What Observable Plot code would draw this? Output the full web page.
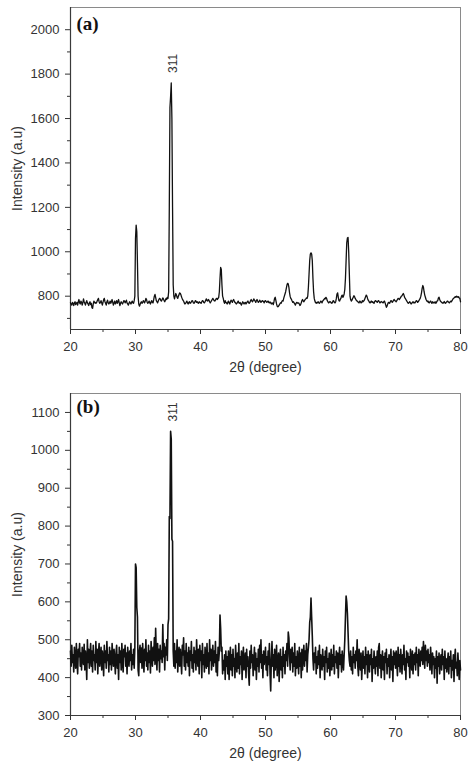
<!DOCTYPE html>
<html>
<head>
<meta charset="utf-8">
<script src="https://cdn.jsdelivr.net/npm/d3@7"></script>
<script src="https://cdn.jsdelivr.net/npm/@observablehq/plot@0.6"></script>
<style>
  body { margin: 0; background: #fff; }
  #chart svg { display: block; }
</style>
</head>
<body>
<div id="chart"></div>
<script>
// Diffraction scans, 2θ from 20° to 80° sampled every 0.1°.
const twoThetaStart = 20;
const twoThetaStep = 0.1;

// Panel (a): intensity, one row per degree (x.0 … x.9), last value at 80.0
const intensityA = [
  770,765,760,772,768,758,770,775,762,768,
  772,760,775,785,770,765,778,772,760,770,
  788,775,768,760,772,780,770,765,758,770,
  775,762,768,748,745,765,778,770,772,768,
  770,778,785,790,775,768,772,780,770,760,
  772,785,790,775,768,760,775,782,770,765,
  770,778,768,775,785,772,760,770,778,765,
  772,780,768,775,785,770,758,768,775,770,
  765,772,780,778,770,775,782,770,765,760,
  768,775,770,765,772,778,770,768,780,800,
  1060,1120,1090,950,800,765,755,762,770,775,
  768,772,780,775,770,778,790,785,772,768,
  772,778,770,765,775,780,772,770,785,800,
  808,795,780,775,770,778,785,790,788,780,
  778,785,792,788,780,775,782,790,785,795,
  790,820,1200,1650,1700,1760,1600,1200,850,800,
  788,800,812,805,795,790,800,808,815,812,
  805,795,788,782,778,770,765,768,772,778,
  770,765,772,775,768,770,775,780,778,770,
  768,772,780,778,772,775,770,768,775,772,
  770,768,775,780,778,772,770,775,782,788,
  780,778,785,782,775,770,775,780,785,790,
  785,780,778,782,788,790,785,790,795,820,
  880,930,920,850,800,790,775,768,780,772,
  770,765,772,778,770,765,775,782,778,772,
  780,785,778,772,770,765,768,772,778,770,
  768,772,765,760,768,775,770,765,770,772,
  765,770,775,778,770,768,772,780,785,778,
  775,780,788,782,778,772,780,785,778,772,
  775,782,778,772,776,780,778,775,770,778,
  780,776,772,775,778,772,770,774,770,765,
  770,768,762,775,790,795,780,765,755,752,
  755,760,765,770,768,775,780,778,790,800,
  810,820,835,850,858,855,840,815,798,790,
  785,778,772,775,770,765,760,768,772,770,
  768,770,765,758,762,770,780,785,778,775,
  780,785,788,792,790,800,840,900,960,990,
  995,990,960,880,820,790,778,770,772,768,
  772,775,770,768,772,778,775,770,778,782,
  785,790,788,795,790,780,775,770,772,776,
  775,770,768,772,780,778,772,770,775,790,
  810,815,795,780,778,785,790,800,805,795,
  800,810,830,880,960,1040,1062,1065,1000,900,
  800,785,778,782,790,795,802,798,790,785,
  780,778,775,772,770,778,775,770,772,780,
  775,778,782,790,798,805,800,790,782,778,
  772,770,775,778,772,775,770,768,776,780,
  778,775,772,778,780,775,770,772,776,774,
  772,770,775,778,770,760,750,755,765,772,
  770,768,775,780,778,772,776,782,785,780,
  778,775,780,785,790,788,785,790,795,800,
  802,808,812,805,795,790,785,780,775,770,
  768,772,775,770,765,768,772,775,770,772,
  770,775,780,778,772,775,780,785,790,800,
  815,835,848,840,820,805,795,785,780,775,
  778,772,770,775,778,772,768,775,770,772,
  770,775,768,772,778,780,792,795,785,778,
  775,772,770,768,772,776,770,768,772,775,
  778,775,772,770,774,778,775,780,785,790,
  792,795,798,795,800,798,795,798,792,790,
  775
];

// Panel (b): intensity, same sampling
const intensityB = [
  470,430,485,440,460,415,480,450,425,490,
  445,410,475,455,490,430,465,420,480,450,
  435,488,420,470,445,395,500,440,475,425,
  460,490,430,470,415,485,445,460,420,495,
  440,475,410,465,490,430,455,480,420,470,
  450,405,485,440,470,425,495,445,460,415,
  480,435,470,420,490,455,430,475,445,410,
  465,485,425,460,395,480,440,470,420,490,
  445,415,475,455,485,430,465,410,480,450,
  430,470,445,490,420,460,435,475,425,480,
  700,690,585,560,420,405,470,485,440,478,
  425,490,450,415,475,445,500,430,465,420,
  485,440,470,412,495,455,430,480,445,505,
  435,530,460,420,490,445,475,415,485,450,
  470,440,540,455,490,420,480,460,500,445,
  540,555,825,820,1050,1030,765,760,470,430,
  490,425,470,440,500,415,460,480,430,475,
  445,410,485,460,505,430,470,420,490,440,
  465,430,480,405,470,445,495,425,460,415,
  480,440,470,420,500,455,430,475,410,485,
  445,470,400,490,435,460,415,480,450,425,
  490,430,465,410,500,445,475,420,460,485,
  430,470,440,495,415,460,405,480,445,470,
  565,530,470,480,410,445,420,460,395,470,
  430,455,410,470,395,445,480,420,460,405,
  475,430,450,400,485,440,415,465,425,490,
  410,455,435,470,395,450,480,420,440,465,
  400,475,430,455,410,380,470,425,485,440,
  460,405,445,480,420,465,395,450,430,475,
  415,485,440,500,425,460,400,470,435,455,
  480,420,455,405,470,435,490,410,365,450,
  495,430,460,400,475,420,450,485,405,440,
  465,390,445,475,420,455,400,480,430,460,
  410,470,445,490,430,520,505,455,420,475,
  440,480,415,465,430,490,405,455,425,470,
  445,410,480,430,465,400,475,420,460,485,
  430,470,445,490,415,460,480,500,545,560,
  610,560,510,450,420,465,440,480,410,455,
  425,470,435,485,400,460,445,420,475,430,
  455,395,470,440,480,415,450,425,465,405,
  440,475,420,460,430,485,410,455,440,470,
  425,465,400,450,480,435,460,415,470,445,
  420,460,500,560,615,600,570,520,470,445,
  430,470,420,455,410,480,440,460,425,470,
  445,500,430,405,475,450,420,465,395,440,
  470,425,455,410,480,435,460,400,470,445,
  415,460,435,475,390,450,425,470,440,410,
  455,430,470,405,480,490,425,460,400,445,
  470,420,455,395,465,440,475,410,450,430,
  460,400,445,475,420,455,390,470,435,465,
  425,470,440,405,480,430,460,415,475,445,
  410,460,435,485,420,450,395,470,440,465,
  430,455,400,475,445,420,470,410,460,435,
  465,420,480,440,460,405,475,450,430,470,
  445,480,435,495,460,425,485,445,470,430,
  475,440,460,420,480,445,410,465,435,455,
  400,450,425,470,385,455,430,465,410,445,
  460,420,475,435,455,395,470,425,450,415,
  440,465,410,455,430,470,400,445,420,460,
  390,450,475,425,440,405,465,430,395,445,
  420
];

// Axis ticks
const xTicks = [20, 30, 40, 50, 60, 70, 80];
const xMinorTicks = [25, 35, 45, 55, 65, 75];
const yTicksA = [800, 1000, 1200, 1400, 1600, 1800, 2000];
const yMinorTicksA = [700, 900, 1100, 1300, 1500, 1700, 1900];
const yTicksB = [300, 400, 500, 600, 700, 800, 900, 1000, 1100];
const yMinorTicksB = [350, 450, 550, 650, 750, 850, 950, 1050];

// Panel tags and the indexed reflection
const panelTags = ["(a)", "(b)"];
const reflectionLabel = "311";
const reflectionAngle = 35.5;

const toRows = values => values.map((v, i) => ({
  t: +(twoThetaStart + i * twoThetaStep).toFixed(1),
  v
}));

const noText = () => "";
const plain = d3.format("d");

function panel({values, yDomain, yTicks, yMinor, tag, marginTop, marginBottom, tagDy, lineWidth}) {
  const rows = toRows(values);
  const peak = d3.max(rows.filter(d => Math.abs(d.t - reflectionAngle) < 0.5), d => d.v);
  return Plot.plot({
    width: 474,
    height: 383,
    marginLeft: 70,
    marginRight: 14,
    marginTop,
    marginBottom,
    style: {
      fontFamily: "'Liberation Sans', Arial, sans-serif",
      fontSize: "12.5px",
      color: "#333",
      background: "#fff"
    },
    x: {domain: [20, 80]},
    y: {domain: yDomain},
    marks: [
      Plot.frame({stroke: "#8a8a8a", strokeWidth: 1}),
      Plot.ruleX([20], {stroke: "#3a3a3a", strokeWidth: 1.2}),
      Plot.ruleY([yDomain[0]], {stroke: "#3a3a3a", strokeWidth: 1.2}),
      Plot.axisX({
        ticks: xTicks, tickSize: 5, tickPadding: 7, tickFormat: plain,
        label: "2θ (degree)", labelAnchor: "center", labelArrow: "none", labelOffset: 42,
        fontSize: 13
      }),
      Plot.axisX({ticks: xMinorTicks, tickSize: 3, tickFormat: noText, label: null}),
      Plot.axisY({
        ticks: yTicks, tickSize: 5, tickPadding: 6, tickFormat: plain,
        label: "Intensity (a.u)", labelAnchor: "center", labelArrow: "none", labelOffset: 58,
        fontSize: 13
      }),
      Plot.axisY({ticks: yMinor, tickSize: 3, tickFormat: noText, label: null}),
      Plot.line(rows, {x: "t", y: "v", stroke: "#111", strokeWidth: lineWidth}),
      Plot.text([reflectionLabel], {
        x: reflectionAngle, y: peak, text: d => d,
        rotate: -90, textAnchor: "start", dy: -10, dx: 2,
        fontSize: 12, fill: "#333"
      }),
      Plot.text([tag], {
        frameAnchor: "top-left", text: d => d, dx: 6, dy: tagDy,
        lineAnchor: "top", textAnchor: "start",
        fontFamily: "'Liberation Serif', 'Times New Roman', serif",
        fontWeight: "bold", fontSize: 19, fill: "#111"
      })
    ]
  });
}

const chart = document.getElementById("chart");
chart.append(panel({
  values: intensityA, yDomain: [650, 2100], yTicks: yTicksA, yMinor: yMinorTicksA,
  tag: panelTags[0], marginTop: 7, marginBottom: 54, tagDy: 9, lineWidth: 1.3
}));
chart.append(panel({
  values: intensityB, yDomain: [300, 1150], yTicks: yTicksB, yMinor: yMinorTicksB,
  tag: panelTags[1], marginTop: 10, marginBottom: 51, tagDy: 6, lineWidth: 1.6
}));

// Axis titles a touch larger than the tick labels
chart.querySelectorAll("svg g[aria-label$='axis label'] text").forEach(t => t.setAttribute("font-size", 14));
</script>
</body>
</html>
